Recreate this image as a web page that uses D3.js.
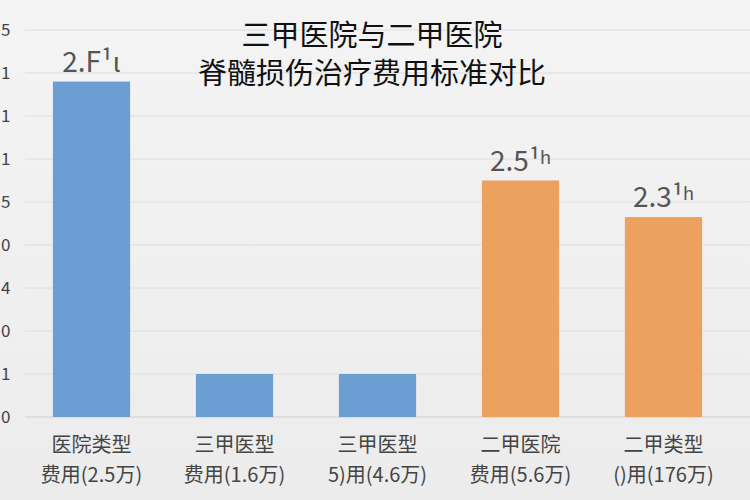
<!DOCTYPE html>
<html><head><meta charset="utf-8">
<script src="https://cdn.jsdelivr.net/npm/d3@7"></script>
<style>body{margin:0;background:#efefef}</style></head>
<body><svg id="c" width="750" height="500"></svg>
<script>
const categories = [["医院类型","费用(2.5万)"],["三甲医型","费用(1.6万)"],["三甲医型","5)用(4.6万)"],["二甲医院","费用(5.6万)"],["二甲类型","()用(176万)"]];
const values = [7.8, 1.0, 1.0, 5.5, 4.65];
const valueLabels = ["2.F¹ι", "", "", "2.5¹ʰ", "2.3¹ʰ"];
const tickLabels = ["0","1","0","4","0","5","1","1","1","5"];
const colors = ["#6b9fd3","#6b9fd3","#6b9fd3","#eca15f","#eca15f"];
const titleLines = ["三甲医院与二甲医院","脊髓损伤治疗费用标准对比"];

const svg = d3.select("#c");
const font = "'Noto Sans CJK SC', sans-serif";
const defs = svg.append("defs");
const g0 = defs.append("linearGradient").attr("id","bg").attr("x1",0).attr("y1",0).attr("x2",0).attr("y2",1);
g0.append("stop").attr("offset",0).attr("stop-color","#f4f4f4");
g0.append("stop").attr("offset",1).attr("stop-color","#ececec");
svg.append("rect").attr("width",750).attr("height",500).attr("fill","url(#bg)");

const x = d3.scaleBand().domain(d3.range(values.length)).range([20, 735]).paddingInner(0.46).paddingOuter(0.23);
const y = d3.scaleLinear().domain([0, 9]).range([417, 30]);

const grid = svg.append("g");
d3.range(10).forEach(i => {
  grid.append("line").attr("x1", 25).attr("x2", 750).attr("y1", y(i)).attr("y2", y(i))
    .attr("stroke", i===0 ? "#cfcfcf" : "#dedede").attr("stroke-width", 1);
  grid.append("text").attr("x", 1).attr("y", y(i)).attr("dy", "0.35em")
    .attr("font-family", font).attr("font-size", 17).attr("fill", "#444").text(tickLabels[i]);
});

svg.selectAll(".bar").data(values).join("rect")
  .attr("x", (d,i) => x(i)).attr("width", x.bandwidth())
  .attr("y", d => y(d)).attr("height", d => y(0) - y(d))
  .attr("fill", (d,i) => colors[i]);

svg.selectAll(".vl").data(values).join("text")
  .attr("x", (d,i) => x(i) + x.bandwidth()/2).attr("y", d => y(d) - 10)
  .attr("text-anchor","middle").attr("font-family", font).attr("font-size", 28).attr("fill","#555")
  .text((d,i) => valueLabels[i]);

categories.forEach((c,i) => {
  c.forEach((t,j) => svg.append("text").attr("x", x(i) + x.bandwidth()/2).attr("y", 452 + j*30)
    .attr("text-anchor","middle").attr("font-family", font).attr("font-size", 20).attr("fill","#444").text(t));
});

titleLines.forEach((t,j) => svg.append("text").attr("x", 372).attr("y", 46 + j*38)
  .attr("text-anchor","middle").attr("font-family", font).attr("font-size", 29).attr("fill","#111").text(t));
</script></body></html>
